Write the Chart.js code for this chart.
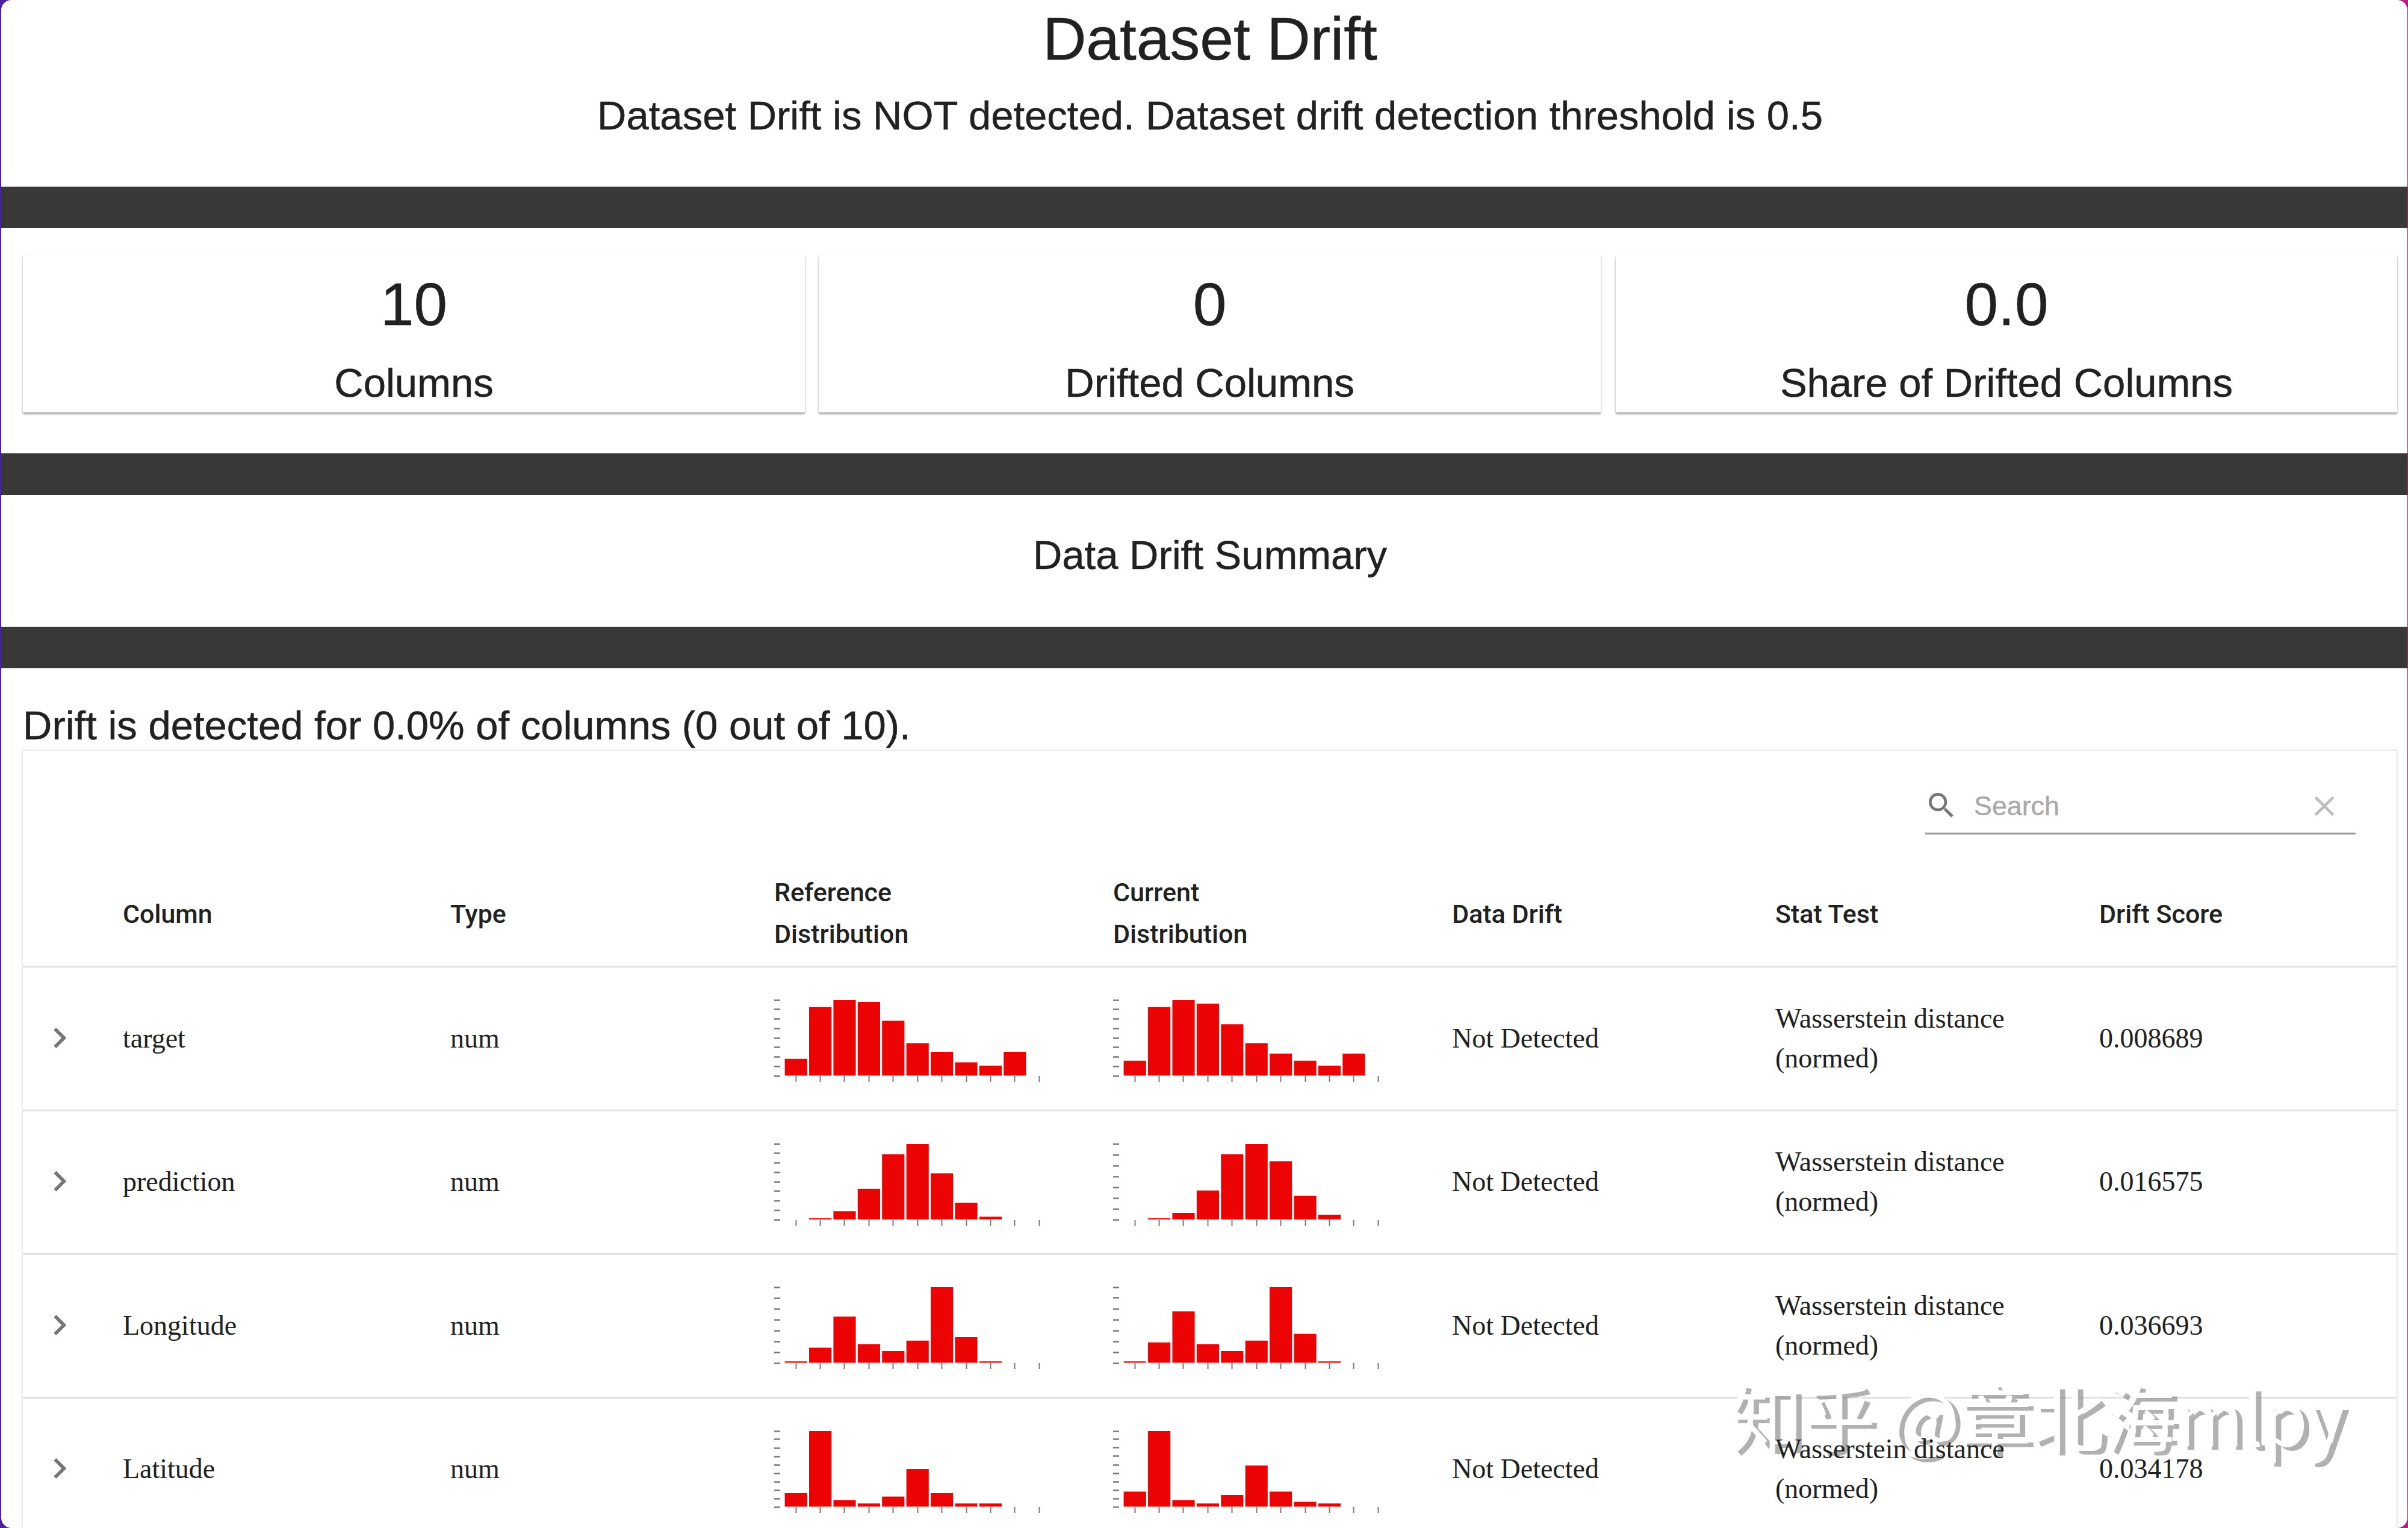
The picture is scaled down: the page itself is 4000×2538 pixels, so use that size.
<!DOCTYPE html>
<html><head><meta charset="utf-8">
<script src="https://cdn.jsdelivr.net/npm/chart.js@4"></script>
<style>
html,body{margin:0;padding:0;width:4000px;height:2538px;overflow:hidden;background:linear-gradient(90deg,#4a1fa0 0%,#5a2a90 30%,#a0207a 80%,#bb1a80 100%)}
#page{position:absolute;left:1.5px;top:0;width:3997px;height:2538px;background:#fff;border-radius:17px;overflow:hidden}
#root{position:absolute;left:-1.5px;top:0;width:4000px;height:2538px}
.t{position:absolute;white-space:nowrap;transform:translateY(-50%);color:#212121;font-family:"Liberation Sans",sans-serif;-webkit-text-stroke:.5px #212121}
.c{transform:translate(-50%,-50%);text-align:center}
.band{position:absolute;left:0;width:4000px;background:#383838}
.card{position:absolute;top:424px;height:261px;background:#fff;box-shadow:0 3px 3px rgba(0,0,0,.32),0 0 5px rgba(0,0,0,.08)}
.rule{position:absolute;left:38px;width:3943px;height:3px;background:#e0e0e0}
.h{font-family:Roboto,sans-serif;font-size:43px;font-weight:500;-webkit-text-stroke:0}
.b{font-family:"Liberation Serif",serif;font-size:46px;-webkit-text-stroke:0;z-index:6}
canvas{position:absolute}
svg{position:absolute}
#wm{position:absolute;left:2873px;top:2348px;transform:translateY(-50%);white-space:nowrap;font-family:"Noto Sans CJK SC",sans-serif;font-size:122px;font-weight:400;color:#fff;text-shadow:9px 6px 0 rgba(125,125,125,.6);z-index:5;letter-spacing:-1.7px}
</style></head><body>
<div id="page"><div id="root"></div></div>
<script>
// ---- chart data (histogram bins; the y axis carries no labels, values are in tick units of 1000) ----
const bins = [0,1,2,3,4,5,6,7,8,9,10];
const tickStep = 1000;
const targetRef = [1776,7188,7919,7731,5746,3406,2507,1421,1066,2507,0];
const targetCur = [1608,7280,8020,7640,5460,3450,2350,1608,1080,2350,0];
const predictionRef = [0,159,833,3056,6488,7520,4603,1687,317,0,0];
const predictionCur = [0,151,624,2760,6181,7164,5520,2268,473,0,0];
const longitudeRef = [147,1413,4257,1743,1101,2055,6954,2367,147,0,0];
const longitudeCur = [139,1791,4487,1652,1043,1948,6591,2539,139,0,0];
const latitudeRef = [1712,9429,844,422,1290,4715,1712,422,422,0,0];
const latitudeCur = [1869,9223,825,413,1456,5024,1869,631,413,0,0];
// ---- table text ----
const columnNames = ["target","prediction","Longitude","Latitude"];
const columnType = "num";
const driftState = "Not Detected";
const statTest = ["Wasserstein distance","(normed)"];
const driftScores = ["0.008689","0.016575","0.036693","0.034178"];
const headers = ["Column","Type","Data Drift","Stat Test","Drift Score"];
const cards = [["10","Columns"],["0","Drifted Columns"],["0.0","Share of Drifted Columns"]];

const root = document.getElementById('root');
function el(cls, css, text){const d=document.createElement('div');d.className=cls;d.style.cssText=css;if(text!=null)d.textContent=text;root.appendChild(d);return d;}
function icon(path,x,y,size,color){
  const s=document.createElementNS('http://www.w3.org/2000/svg','svg');
  s.setAttribute('viewBox','0 0 24 24');s.setAttribute('width',size);s.setAttribute('height',size);
  s.style.left=(x-size/2)+'px';s.style.top=(y-size/2)+'px';
  const p=document.createElementNS('http://www.w3.org/2000/svg','path');p.setAttribute('d',path);p.setAttribute('fill',color);s.appendChild(p);root.appendChild(s);
}
el('t c','left:2010px;top:64px;font-size:100px','Dataset Drift');
el('t c','left:2010px;top:191px;font-size:67px','Dataset Drift is NOT detected. Dataset drift detection threshold is 0.5');
[[310,69],[753,69],[1041,69]].forEach(b=>el('band',`top:${b[0]}px;height:${b[1]}px`));
const cardBoxes=[[38,1299],[1360,1299],[2684,1298]];
cards.forEach((c,i)=>{
  const [x,w]=cardBoxes[i];
  el('card',`left:${x}px;width:${w}px`);
  el('t c',`left:${x+w/2}px;top:505px;font-size:100px`,c[0]);
  el('t c',`left:${x+w/2}px;top:635px;font-size:67px`,c[1]);
});
el('t c','left:2010px;top:921px;font-size:67px','Data Drift Summary');
el('t','left:38px;top:1204px;font-size:67px','Drift is detected for 0.0% of columns (0 out of 10).');
el('','position:absolute;left:38px;top:1247px;width:3943px;height:1300px;background:#fff;box-shadow:0 0 0 2px #ececec,0 0 10px rgba(0,0,0,.07)');
// search
icon('M15.5 14h-.79l-.28-.27C15.41 12.59 16 11.11 16 9.5 16 5.91 13.09 3 9.5 3S3 5.91 3 9.5 5.91 16 9.5 16c1.61 0 3.09-.59 4.23-1.57l.27.28v.79l5 4.99L20.49 19l-4.99-5zm-6 0C7.01 14 5 11.99 5 9.5S7.01 5 9.5 5 14 7.01 14 9.5 11.99 14 9.5 14z',3225,1338,56,'#757575');
el('t','left:3279px;top:1338px;font-size:44.8px;color:#a8a8a8;-webkit-text-stroke:.3px #a8a8a8','Search');
icon('M19 6.41L17.59 5 12 10.59 6.41 5 5 6.41 10.59 12 5 17.59 6.41 19 12 13.41 17.59 19 19 17.59 13.41 12z',3861,1339,56,'#bdbdbd');
el('','position:absolute;left:3198px;top:1382.5px;width:715px;height:3px;background:#949494');
// header
const headX=[204,748,2412,2949,3487];
headers.forEach((h,i)=>el('t h',`left:${headX[i]}px;top:1518px`,h));
el('t h','left:1286px;top:1482px','Reference');el('t h','left:1286px;top:1551px','Distribution');
el('t h','left:1849px;top:1482px','Current');el('t h','left:1849px;top:1551px','Distribution');
// rows
const rowRules=[1605,1844,2082,2321];
const rowMid=[1724,1962,2201,2439];
rowRules.forEach(y=>el('rule',`top:${y-1.5}px`));
columnNames.forEach((n,i)=>{
  const y=rowMid[i];
  icon('M10 6L8.59 7.41 13.17 12l-4.58 4.59L10 18l6-6z',99,y,68,'#757575');
  el('t b',`left:204px;top:${y}px`,n);
  el('t b',`left:748px;top:${y}px`,columnType);
  el('t b',`left:2412px;top:${y}px`,driftState);
  el('t b',`left:2949px;top:${y-33}px`,statTest[0]);
  el('t b',`left:2949px;top:${y+33}px`,statTest[1]);
  el('t b',`left:3487px;top:${y}px`,driftScores[i]);
});
// mini histograms
const BASE=[1787.3,2026,2264.7,2503.3];
const COLX=[1286,1849];
const PLOT_H=126.3, PAD_TOP=6, TICK=10, W=445, PITCH=40.4, FIRST=36.2;
function hist(values,col,row){
  const c=document.createElement('canvas');
  const H=PLOT_H+PAD_TOP+TICK;
  c.width=W;c.height=Math.round(H);
  c.style.cssText=`left:${COLX[col]}px;top:${Math.round(BASE[row]+TICK-H)}px;width:${W}px;height:${Math.round(H)}px`;
  root.appendChild(c);
  const xMin=-(FIRST-TICK)/PITCH, xMax=(W-TICK-(FIRST-TICK))/PITCH;
  new Chart(c,{type:'bar',
    data:{labels:bins,datasets:[{data:values,backgroundColor:'#ec0404',borderWidth:0,barPercentage:.92,categoryPercentage:1}]},
    options:{responsive:false,animation:false,devicePixelRatio:1,
      layout:{padding:{top:PAD_TOP}},
      plugins:{legend:{display:false},tooltip:{enabled:false}},
      scales:{
        x:{type:'linear',offset:false,min:xMin,max:xMax,
           ticks:{display:false,stepSize:1,includeBounds:false,autoSkip:false},
           border:{display:false},
           grid:{offset:false,drawOnChartArea:false,drawTicks:true,tickLength:TICK,tickColor:'#7a7a7a',tickWidth:2}},
        y:{min:0,max:Math.max(...values),
           ticks:{display:false,stepSize:tickStep,includeBounds:false},
           border:{display:false},
           grid:{drawOnChartArea:false,drawTicks:true,tickLength:TICK,tickColor:'#7a7a7a',tickWidth:2.5}}
      }}});
}
[[targetRef,targetCur],[predictionRef,predictionCur],[longitudeRef,longitudeCur],[latitudeRef,latitudeCur]]
 .forEach((pair,row)=>pair.forEach((v,col)=>hist(v,col,row)));
// watermark
const wm=document.createElement('div');wm.id='wm';wm.textContent='知乎 @章北海mlpy';root.appendChild(wm);
</script>
</body></html>
